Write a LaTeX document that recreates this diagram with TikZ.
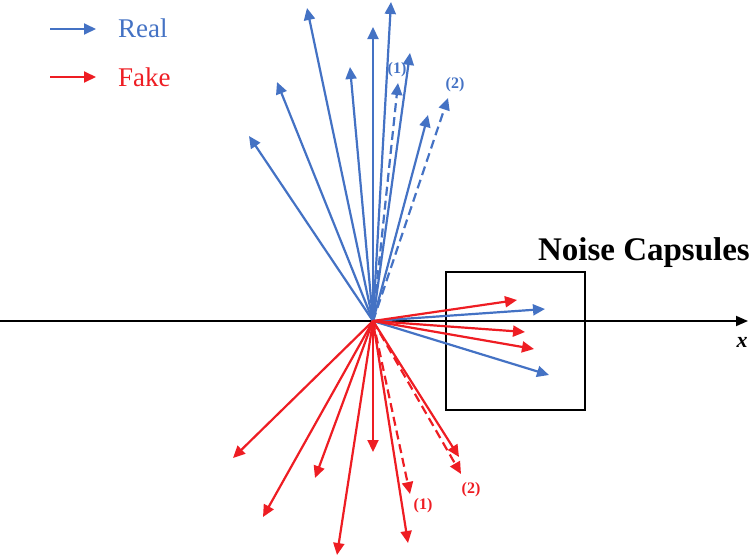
\documentclass[tikz,border=0pt]{standalone}
\usepackage{fontspec}
\setmainfont{Liberation Serif}
\usetikzlibrary{arrows.meta}
\definecolor{rb}{HTML}{4472C4}
\definecolor{rr}{HTML}{EE1D23}
\begin{document}
\begin{tikzpicture}[x=1pt,y=-1pt,
 ar/.style={line width=2.2pt,-{Triangle[length=12pt,width=11pt]}},
 bl/.style={ar,rb}, rd/.style={ar,rr}, ds/.style={dash pattern=on 9pt off 5pt},
 lab/.style={font=\bfseries\fontsize{16}{16}\selectfont,inner sep=0pt}]
\useasboundingbox (0,0) rectangle (752,557);
\coordinate (O) at (373,321);
\coordinate (xe) at (748,321);
\coordinate (xs) at (0,321);
\draw[line width=1.8pt,-{Triangle[length=12pt,width=10pt]}] (xs) -- (xe);
\node[font=\bfseries\itshape\fontsize{22}{22}\selectfont] (xl) at (742,342) {x};
\node[draw,line width=2pt,minimum width=139pt,minimum height=138pt,inner sep=0pt] (box) at (515.5,341) {};
\node[font=\bfseries\fontsize{33}{33}\selectfont,anchor=east,inner sep=0pt] (nc) at (750,253) {Noise Capsules};
% blue
\coordinate (b1) at (249,136); \draw[bl] (O) -- (b1);
\coordinate (b2) at (277,82); \draw[bl] (O) -- (b2);
\coordinate (b3) at (307,8); \draw[bl] (O) -- (b3);
\coordinate (b4) at (350,67); \draw[bl] (O) -- (b4);
\coordinate (b5) at (373,27); \draw[bl] (O) -- (b5);
\coordinate (b6) at (391,2); \draw[bl] (O) -- (b6);
\coordinate (b7) at (410,53); \draw[bl] (O) -- (b7);
\coordinate (b8) at (428,115); \draw[bl] (O) -- (b8);
\coordinate (b9) at (545,309); \draw[bl] (O) -- (b9);
\coordinate (b10) at (549,375); \draw[bl] (O) -- (b10);
\coordinate (bd1) at (398,83); \coordinate (bd2) at (448,98);
\draw[bl,ds] (O) -- (bd1);
\draw[bl,ds] (O) -- (bd2);
\node[lab,text=rb] (bl1) at (397,70) {(1)};
\node[lab,text=rb] (bl2) at (455,85) {(2)};
% red
\coordinate (r1) at (233,458); \draw[rd] (O) -- (r1);
\coordinate (r2) at (263,517); \draw[rd] (O) -- (r2);
\coordinate (r3) at (315,478); \draw[rd] (O) -- (r3);
\coordinate (r4) at (337,555); \draw[rd] (O) -- (r4);
\coordinate (r5) at (373,452); \draw[rd] (O) -- (r5);
\coordinate (r6) at (408,543); \draw[rd] (O) -- (r6);
\coordinate (r7) at (459,457); \draw[rd] (O) -- (r7);
\coordinate (r8) at (517,300); \draw[rd] (O) -- (r8);
\coordinate (r9) at (525,332); \draw[rd] (O) -- (r9);
\coordinate (r10) at (534,349); \draw[rd] (O) -- (r10);
\coordinate (rd1) at (410,494); \coordinate (rd2) at (461,474);
\draw[rd,ds] (O) -- (rd1);
\draw[rd,ds] (O) -- (rd2);
\node[lab,text=rr] (rl1) at (423,506) {(1)};
\node[lab,text=rr] (rl2) at (471,490) {(2)};
% legend
\coordinate (la) at (50,29); \coordinate (lb) at (96,29);
\coordinate (lc) at (50,77); \coordinate (ld) at (96,77);
\draw[bl,line width=2pt] (la) -- (lb);
\draw[rd,line width=2pt] (lc) -- (ld);
\node[text=rb,font=\fontsize{27}{27}\selectfont,anchor=west,inner sep=0pt] (real) at (118,28) {Real};
\node[text=rr,font=\fontsize{27}{27}\selectfont,anchor=west,inner sep=0pt] (fake) at (118,77) {Fake};
\end{tikzpicture}
\end{document}
